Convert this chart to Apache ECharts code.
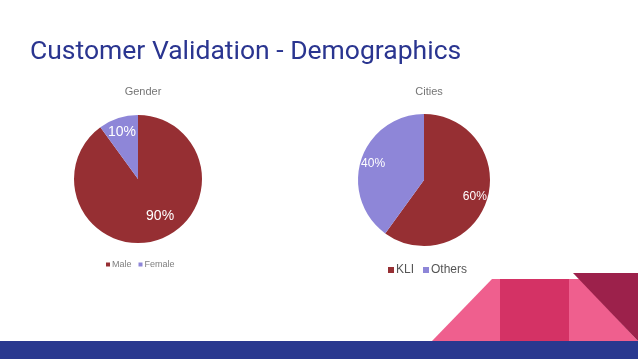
<!DOCTYPE html>
<html><head><meta charset="utf-8">
<script src="https://cdn.jsdelivr.net/npm/echarts@6/dist/echarts.min.js"></script>
<style>html,body{margin:0;padding:0;background:#fff}#c{width:638px;height:359px}</style>
</head><body><div id="c"></div>
<script>
const mainTitle = 'Customer Validation - Demographics';
const genderTitle = 'Gender';
const genderCategories = ['Male', 'Female'];
const genderValues = [90, 10];
const cityTitle = 'Cities';
const cityCategories = ['KLI', 'Others'];
const cityValues = [60, 40];
const sliceColors = ['#962f33', '#8e86d8'];

const chart = echarts.init(document.getElementById('c'), null, {renderer: 'canvas'});

function pieData(cats, vals) {
  return cats.map((n, i) => ({name: n, value: vals[i], itemStyle: {color: sliceColors[i]}}));
}
function overlayData(cats, vals) {
  return cats.map((n, i) => ({name: n, value: vals[i]}));
}
function legendData(cats) {
  return cats.map((n, i) => ({name: n, itemStyle: {color: sliceColors[i]}}));
}

const option = {
  backgroundColor: '#ffffff',
  animation: false,
  title: [
    {text: mainTitle, left: 25, top: 34,
     textStyle: {fontFamily: 'Roboto', fontWeight: 'normal', fontSize: 26.5, color: '#2a3590'}},
    {text: genderTitle, left: 138, top: 81, textAlign: 'center',
     textStyle: {fontFamily: 'Liberation Sans', fontWeight: 'normal', fontSize: 11, color: '#757575'}},
    {text: cityTitle, left: 424, top: 81, textAlign: 'center',
     textStyle: {fontFamily: 'Liberation Sans', fontWeight: 'normal', fontSize: 11, color: '#757575'}}
  ],
  legend: [
    {data: legendData(genderCategories), left: 101, top: 255, icon: 'rect', itemWidth: 4, itemHeight: 4, itemGap: 7,
     textStyle: {fontFamily: 'Liberation Sans', fontSize: 9, color: '#808080', padding: [0, 0, 0, -3]}, selectedMode: false},
    {data: legendData(cityCategories), left: 383, top: 259, icon: 'rect', itemWidth: 6, itemHeight: 6, itemGap: 9,
     textStyle: {fontFamily: 'Liberation Sans', fontSize: 12, color: '#555555', padding: [0, 0, 0, -3]}, selectedMode: false}
  ],
  series: [
    {type: 'pie', center: [138, 179], radius: [0, 64], startAngle: 90, clockwise: true,
     data: pieData(genderCategories, genderValues), label: {show: false}, labelLine: {show: false}},
    {type: 'pie', center: [424, 180], radius: [0, 66], startAngle: 90, clockwise: true,
     data: pieData(cityCategories, cityValues), label: {show: false}, labelLine: {show: false}},
    {type: 'pie', center: [138, 179], radius: [34, 64], startAngle: 90, clockwise: true, silent: true,
     itemStyle: {color: 'rgba(0,0,0,0)'},
     data: overlayData(genderCategories, genderValues),
     label: {show: true, position: 'inside', formatter: '{d}%', color: '#ffffff', fontFamily: 'Liberation Sans', fontSize: 14},
     labelLayout: function (p) { return p.dataIndex === 0 ? {dx: 6, dy: -12} : {dy: 3}; }},
    {type: 'pie', center: [424, 180], radius: [35, 66], startAngle: 90, clockwise: true, silent: true,
     itemStyle: {color: 'rgba(0,0,0,0)'},
     data: overlayData(cityCategories, cityValues),
     label: {show: true, position: 'inside', formatter: '{d}%', color: '#ffffff', fontFamily: 'Liberation Sans', fontSize: 12}}
  ],
  graphic: [
    {type: 'polygon', shape: {points: [[432, 341], [492, 279], [580, 279], [638, 341]]}, style: {fill: '#ef5f8e'}},
    {type: 'rect', shape: {x: 500, y: 279, width: 69, height: 62}, style: {fill: '#d43265'}},
    {type: 'polygon', shape: {points: [[573, 273], [638, 273], [638, 341]]}, style: {fill: '#9c214b'}},
    {type: 'rect', shape: {x: 0, y: 341, width: 638, height: 18}, style: {fill: '#29388f'}}
  ]
};
chart.setOption(option);
</script></body></html>
